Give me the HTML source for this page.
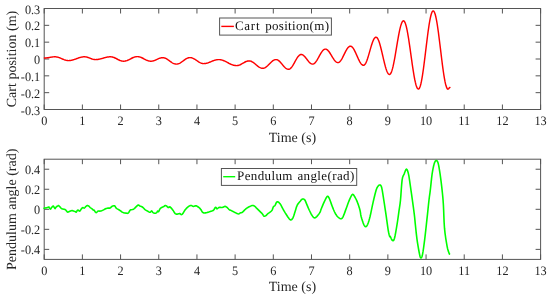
<!DOCTYPE html>
<html><head><meta charset="utf-8"><style>html,body{margin:0;padding:0;background:#fff;overflow:hidden}svg{display:block}</style></head><body>
<svg width="550" height="298" viewBox="0 0 550 298">
<rect width="550" height="298" fill="#fff"/>
<defs><filter id="bl" x="-5%" y="-5%" width="110%" height="110%" color-interpolation-filters="sRGB"><feGaussianBlur stdDeviation="0.35"/></filter></defs>
<g font-family="Liberation Serif, Times New Roman, serif" font-size="14" fill="#262626" style="text-rendering:geometricPrecision" filter="url(#bl)">
<rect x="44.2" y="8.5" width="496.40000000000003" height="101.0" fill="#fff" stroke="#555555" stroke-width="1"/>
<path d="M44.20,109.5v-5M44.20,8.5v5M82.38,109.5v-5M82.38,8.5v5M120.57,109.5v-5M120.57,8.5v5M158.75,109.5v-5M158.75,8.5v5M196.94,109.5v-5M196.94,8.5v5M235.12,109.5v-5M235.12,8.5v5M273.31,109.5v-5M273.31,8.5v5M311.49,109.5v-5M311.49,8.5v5M349.68,109.5v-5M349.68,8.5v5M387.86,109.5v-5M387.86,8.5v5M426.05,109.5v-5M426.05,8.5v5M464.23,109.5v-5M464.23,8.5v5M502.42,109.5v-5M502.42,8.5v5M540.60,109.5v-5M540.60,8.5v5M44.2,8.50h5M540.6,8.50h-5M44.2,25.33h5M540.6,25.33h-5M44.2,42.17h5M540.6,42.17h-5M44.2,59.00h5M540.6,59.00h-5M44.2,75.83h5M540.6,75.83h-5M44.2,92.67h5M540.6,92.67h-5M44.2,109.50h5M540.6,109.50h-5" stroke="#555555" stroke-width="1" fill="none"/>
<rect x="44.2" y="159.2" width="496.40000000000003" height="100.19999999999999" fill="#fff" stroke="#555555" stroke-width="1"/>
<path d="M44.20,259.4v-5M44.20,159.2v5M82.38,259.4v-5M82.38,159.2v5M120.57,259.4v-5M120.57,159.2v5M158.75,259.4v-5M158.75,159.2v5M196.94,259.4v-5M196.94,159.2v5M235.12,259.4v-5M235.12,159.2v5M273.31,259.4v-5M273.31,159.2v5M311.49,259.4v-5M311.49,159.2v5M349.68,259.4v-5M349.68,159.2v5M387.86,259.4v-5M387.86,159.2v5M426.05,259.4v-5M426.05,159.2v5M464.23,259.4v-5M464.23,159.2v5M502.42,259.4v-5M502.42,159.2v5M540.60,259.4v-5M540.60,159.2v5M44.2,169.22h5M540.6,169.22h-5M44.2,189.26h5M540.6,189.26h-5M44.2,209.30h5M540.6,209.30h-5M44.2,229.34h5M540.6,229.34h-5M44.2,249.38h5M540.6,249.38h-5" stroke="#555555" stroke-width="1" fill="none"/>
<text transform="translate(44.20,125.20) scale(0.95,1)" text-anchor="middle" font-size="12.9">0</text>
<text transform="translate(82.38,125.20) scale(0.95,1)" text-anchor="middle" font-size="12.9">1</text>
<text transform="translate(120.57,125.20) scale(0.95,1)" text-anchor="middle" font-size="12.9">2</text>
<text transform="translate(158.75,125.20) scale(0.95,1)" text-anchor="middle" font-size="12.9">3</text>
<text transform="translate(196.94,125.20) scale(0.95,1)" text-anchor="middle" font-size="12.9">4</text>
<text transform="translate(235.12,125.20) scale(0.95,1)" text-anchor="middle" font-size="12.9">5</text>
<text transform="translate(273.31,125.20) scale(0.95,1)" text-anchor="middle" font-size="12.9">6</text>
<text transform="translate(311.49,125.20) scale(0.95,1)" text-anchor="middle" font-size="12.9">7</text>
<text transform="translate(349.68,125.20) scale(0.95,1)" text-anchor="middle" font-size="12.9">8</text>
<text transform="translate(387.86,125.20) scale(0.95,1)" text-anchor="middle" font-size="12.9">9</text>
<text transform="translate(426.05,125.20) scale(0.95,1)" text-anchor="middle" font-size="12.9">10</text>
<text transform="translate(464.23,125.20) scale(0.95,1)" text-anchor="middle" font-size="12.9">11</text>
<text transform="translate(502.42,125.20) scale(0.95,1)" text-anchor="middle" font-size="12.9">12</text>
<text transform="translate(540.60,125.20) scale(0.95,1)" text-anchor="middle" font-size="12.9">13</text>
<text x="292.40" y="141.50" text-anchor="middle">Time (s)</text>
<text transform="translate(44.20,275.10) scale(0.95,1)" text-anchor="middle" font-size="12.9">0</text>
<text transform="translate(82.38,275.10) scale(0.95,1)" text-anchor="middle" font-size="12.9">1</text>
<text transform="translate(120.57,275.10) scale(0.95,1)" text-anchor="middle" font-size="12.9">2</text>
<text transform="translate(158.75,275.10) scale(0.95,1)" text-anchor="middle" font-size="12.9">3</text>
<text transform="translate(196.94,275.10) scale(0.95,1)" text-anchor="middle" font-size="12.9">4</text>
<text transform="translate(235.12,275.10) scale(0.95,1)" text-anchor="middle" font-size="12.9">5</text>
<text transform="translate(273.31,275.10) scale(0.95,1)" text-anchor="middle" font-size="12.9">6</text>
<text transform="translate(311.49,275.10) scale(0.95,1)" text-anchor="middle" font-size="12.9">7</text>
<text transform="translate(349.68,275.10) scale(0.95,1)" text-anchor="middle" font-size="12.9">8</text>
<text transform="translate(387.86,275.10) scale(0.95,1)" text-anchor="middle" font-size="12.9">9</text>
<text transform="translate(426.05,275.10) scale(0.95,1)" text-anchor="middle" font-size="12.9">10</text>
<text transform="translate(464.23,275.10) scale(0.95,1)" text-anchor="middle" font-size="12.9">11</text>
<text transform="translate(502.42,275.10) scale(0.95,1)" text-anchor="middle" font-size="12.9">12</text>
<text transform="translate(540.60,275.10) scale(0.95,1)" text-anchor="middle" font-size="12.9">13</text>
<text x="292.40" y="291.40" text-anchor="middle">Time (s)</text>
<text transform="translate(40.20,13.50) scale(0.95,1)" text-anchor="end" font-size="12.9">0.3</text>
<text transform="translate(40.20,30.33) scale(0.95,1)" text-anchor="end" font-size="12.9">0.2</text>
<text transform="translate(40.20,47.17) scale(0.95,1)" text-anchor="end" font-size="12.9">0.1</text>
<text transform="translate(40.20,64.00) scale(0.95,1)" text-anchor="end" font-size="12.9">0</text>
<text transform="translate(40.20,80.83) scale(0.95,1)" text-anchor="end" font-size="12.9">-0.1</text>
<text transform="translate(40.20,97.67) scale(0.95,1)" text-anchor="end" font-size="12.9">-0.2</text>
<text transform="translate(40.20,114.50) scale(0.95,1)" text-anchor="end" font-size="12.9">-0.3</text>
<text transform="translate(40.20,174.22) scale(0.95,1)" text-anchor="end" font-size="12.9">0.4</text>
<text transform="translate(40.20,194.26) scale(0.95,1)" text-anchor="end" font-size="12.9">0.2</text>
<text transform="translate(40.20,214.30) scale(0.95,1)" text-anchor="end" font-size="12.9">0</text>
<text transform="translate(40.20,234.34) scale(0.95,1)" text-anchor="end" font-size="12.9">-0.2</text>
<text transform="translate(40.20,254.38) scale(0.95,1)" text-anchor="end" font-size="12.9">-0.4</text>
<text transform="translate(15.6,59.00) rotate(-90)" text-anchor="middle">Cart position (m)</text>
<text transform="translate(15.6,209.30) rotate(-90)" text-anchor="middle">Pendulum angle (rad)</text>
<path d="M44.40,58.00 L44.90,57.99 L45.41,57.97 L45.91,57.94 L46.42,57.90 L46.92,57.84 L47.43,57.77 L47.93,57.70 L48.44,57.62 L48.94,57.53 L49.45,57.44 L49.95,57.36 L50.46,57.27 L50.96,57.18 L51.47,57.10 L51.97,57.03 L52.48,56.96 L52.98,56.90 L53.49,56.86 L53.99,56.83 L54.50,56.81 L55.00,56.80 L55.50,56.81 L56.00,56.85 L56.50,56.91 L57.00,57.00 L57.50,57.11 L58.00,57.24 L58.50,57.40 L59.00,57.57 L59.50,57.75 L60.00,57.95 L60.50,58.16 L61.00,58.37 L61.50,58.59 L62.00,58.81 L62.50,59.03 L63.00,59.24 L63.50,59.45 L64.00,59.65 L64.50,59.83 L65.00,60.00 L65.50,60.16 L66.00,60.29 L66.50,60.40 L67.00,60.49 L67.50,60.55 L68.00,60.59 L68.50,60.60 L69.00,60.59 L69.50,60.56 L70.00,60.52 L70.50,60.46 L71.00,60.38 L71.50,60.28 L72.00,60.17 L72.50,60.04 L73.00,59.91 L73.50,59.76 L74.00,59.60 L74.50,59.43 L75.00,59.25 L75.50,59.07 L76.00,58.89 L76.50,58.70 L77.00,58.51 L77.50,58.33 L78.00,58.15 L78.50,57.97 L79.00,57.80 L79.50,57.64 L80.00,57.49 L80.50,57.36 L81.00,57.23 L81.50,57.12 L82.00,57.02 L82.50,56.94 L83.00,56.88 L83.50,56.84 L84.00,56.81 L84.50,56.80 L85.00,56.81 L85.50,56.86 L86.00,56.93 L86.50,57.02 L87.00,57.14 L87.50,57.28 L88.00,57.44 L88.50,57.62 L89.00,57.81 L89.50,58.00 L90.00,58.20 L90.50,58.40 L91.00,58.59 L91.50,58.78 L92.00,58.96 L92.50,59.12 L93.00,59.26 L93.50,59.38 L94.00,59.47 L94.50,59.54 L95.00,59.59 L95.50,59.60 L96.00,59.59 L96.50,59.57 L97.00,59.53 L97.50,59.48 L98.00,59.41 L98.50,59.33 L99.00,59.24 L99.50,59.14 L100.00,59.02 L100.50,58.90 L101.00,58.77 L101.50,58.63 L102.00,58.49 L102.50,58.35 L103.00,58.20 L103.50,58.05 L104.00,57.91 L104.50,57.77 L105.00,57.63 L105.50,57.50 L106.00,57.38 L106.50,57.26 L107.00,57.16 L107.50,57.07 L108.00,56.99 L108.50,56.92 L109.00,56.87 L109.50,56.83 L110.00,56.81 L110.50,56.80 L111.00,56.82 L111.51,56.86 L112.01,56.94 L112.52,57.05 L113.02,57.19 L113.52,57.35 L114.03,57.54 L114.53,57.75 L115.03,57.98 L115.54,58.22 L116.04,58.47 L116.55,58.73 L117.05,59.00 L117.55,59.27 L118.06,59.53 L118.56,59.78 L119.07,60.02 L119.57,60.25 L120.07,60.46 L120.58,60.65 L121.08,60.81 L121.58,60.95 L122.09,61.06 L122.59,61.14 L123.10,61.18 L123.60,61.20 L124.11,61.18 L124.61,61.14 L125.12,61.06 L125.63,60.96 L126.14,60.82 L126.64,60.66 L127.15,60.48 L127.66,60.27 L128.17,60.05 L128.67,59.81 L129.18,59.56 L129.69,59.30 L130.20,59.03 L130.70,58.77 L131.21,58.50 L131.72,58.24 L132.23,57.99 L132.73,57.75 L133.24,57.53 L133.75,57.32 L134.26,57.14 L134.76,56.98 L135.27,56.84 L135.78,56.74 L136.29,56.66 L136.79,56.62 L137.30,56.60 L137.80,56.62 L138.31,56.66 L138.81,56.74 L139.31,56.84 L139.82,56.98 L140.32,57.14 L140.83,57.32 L141.33,57.53 L141.83,57.75 L142.34,57.99 L142.84,58.24 L143.34,58.50 L143.85,58.77 L144.35,59.03 L144.86,59.30 L145.36,59.56 L145.86,59.81 L146.37,60.05 L146.87,60.27 L147.37,60.48 L147.88,60.66 L148.38,60.82 L148.89,60.96 L149.39,61.06 L149.89,61.14 L150.40,61.18 L150.90,61.20 L151.41,61.18 L151.93,61.14 L152.44,61.06 L152.95,60.95 L153.47,60.81 L153.98,60.64 L154.49,60.46 L155.00,60.26 L155.52,60.04 L156.03,59.81 L156.54,59.57 L157.06,59.33 L157.57,59.09 L158.08,58.86 L158.60,58.64 L159.11,58.44 L159.62,58.26 L160.13,58.09 L160.65,57.95 L161.16,57.84 L161.67,57.76 L162.19,57.72 L162.70,57.70 L163.21,57.72 L163.71,57.79 L164.22,57.89 L164.73,58.04 L165.24,58.23 L165.74,58.45 L166.25,58.70 L166.76,58.99 L167.27,59.30 L167.77,59.63 L168.28,59.98 L168.79,60.34 L169.30,60.71 L169.80,61.09 L170.31,61.46 L170.82,61.82 L171.33,62.17 L171.83,62.50 L172.34,62.81 L172.85,63.10 L173.36,63.35 L173.86,63.57 L174.37,63.76 L174.88,63.91 L175.39,64.01 L175.89,64.08 L176.40,64.10 L176.90,64.08 L177.41,64.01 L177.91,63.90 L178.41,63.75 L178.92,63.57 L179.42,63.34 L179.93,63.08 L180.43,62.79 L180.93,62.47 L181.44,62.14 L181.94,61.78 L182.44,61.41 L182.95,61.04 L183.45,60.66 L183.96,60.29 L184.46,59.92 L184.96,59.56 L185.47,59.23 L185.97,58.91 L186.47,58.62 L186.98,58.36 L187.48,58.13 L187.99,57.95 L188.49,57.80 L188.99,57.69 L189.50,57.62 L190.00,57.60 L190.50,57.62 L191.01,57.68 L191.51,57.78 L192.01,57.92 L192.52,58.09 L193.02,58.30 L193.53,58.54 L194.03,58.81 L194.53,59.10 L195.04,59.41 L195.54,59.74 L196.04,60.08 L196.55,60.43 L197.05,60.77 L197.56,61.12 L198.06,61.46 L198.56,61.79 L199.07,62.10 L199.57,62.39 L200.07,62.66 L200.58,62.90 L201.08,63.11 L201.59,63.28 L202.09,63.42 L202.59,63.52 L203.10,63.58 L203.60,63.60 L204.10,63.59 L204.61,63.56 L205.11,63.50 L205.61,63.43 L206.12,63.33 L206.62,63.22 L207.12,63.09 L207.63,62.94 L208.13,62.78 L208.63,62.60 L209.14,62.41 L209.64,62.22 L210.14,62.02 L210.65,61.81 L211.15,61.60 L211.65,61.39 L212.16,61.18 L212.66,60.98 L213.16,60.79 L213.67,60.60 L214.17,60.42 L214.67,60.26 L215.18,60.11 L215.68,59.98 L216.18,59.87 L216.69,59.77 L217.19,59.70 L217.69,59.64 L218.20,59.61 L218.70,59.60 L219.21,59.61 L219.72,59.65 L220.23,59.71 L220.75,59.79 L221.26,59.90 L221.77,60.02 L222.28,60.17 L222.79,60.34 L223.30,60.53 L223.81,60.73 L224.33,60.95 L224.84,61.18 L225.35,61.42 L225.86,61.67 L226.37,61.93 L226.88,62.20 L227.39,62.47 L227.91,62.73 L228.42,63.00 L228.93,63.27 L229.44,63.53 L229.95,63.78 L230.46,64.02 L230.97,64.25 L231.49,64.47 L232.00,64.67 L232.51,64.86 L233.02,65.03 L233.53,65.18 L234.04,65.30 L234.55,65.41 L235.07,65.49 L235.58,65.55 L236.09,65.59 L236.60,65.60 L237.10,65.58 L237.60,65.53 L238.10,65.43 L238.60,65.31 L239.10,65.15 L239.60,64.96 L240.10,64.75 L240.60,64.51 L241.10,64.25 L241.60,63.98 L242.10,63.69 L242.60,63.40 L243.10,63.10 L243.60,62.81 L244.10,62.52 L244.60,62.25 L245.10,61.99 L245.60,61.75 L246.10,61.54 L246.60,61.35 L247.10,61.19 L247.60,61.07 L248.10,60.97 L248.60,60.92 L249.10,60.90 L249.60,60.93 L250.11,61.00 L250.61,61.12 L251.11,61.29 L251.62,61.51 L252.12,61.77 L252.63,62.06 L253.13,62.39 L253.63,62.75 L254.14,63.13 L254.64,63.54 L255.14,63.96 L255.65,64.38 L256.15,64.82 L256.66,65.24 L257.16,65.66 L257.66,66.07 L258.17,66.45 L258.67,66.81 L259.17,67.14 L259.68,67.43 L260.18,67.69 L260.69,67.91 L261.19,68.08 L261.69,68.20 L262.20,68.27 L262.70,68.30 L263.21,68.27 L263.72,68.17 L264.23,68.02 L264.75,67.80 L265.26,67.53 L265.77,67.21 L266.28,66.83 L266.79,66.42 L267.30,65.97 L267.82,65.49 L268.33,64.99 L268.84,64.47 L269.35,63.95 L269.86,63.43 L270.37,62.91 L270.88,62.41 L271.40,61.93 L271.91,61.48 L272.42,61.07 L272.93,60.69 L273.44,60.37 L273.95,60.10 L274.47,59.88 L274.98,59.73 L275.49,59.63 L276.00,59.60 L276.50,59.64 L277.00,59.75 L277.50,59.94 L278.00,60.20 L278.50,60.53 L279.00,60.91 L279.50,61.36 L280.00,61.85 L280.50,62.38 L281.00,62.95 L281.50,63.54 L282.00,64.15 L282.50,64.75 L283.00,65.36 L283.50,65.95 L284.00,66.52 L284.50,67.05 L285.00,67.54 L285.50,67.99 L286.00,68.37 L286.50,68.70 L287.00,68.96 L287.50,69.15 L288.00,69.26 L288.50,69.30 L289.01,69.24 L289.52,69.07 L290.02,68.78 L290.53,68.38 L291.04,67.89 L291.55,67.29 L292.06,66.62 L292.56,65.87 L293.07,65.05 L293.58,64.19 L294.09,63.29 L294.60,62.36 L295.10,61.44 L295.61,60.51 L296.12,59.61 L296.63,58.75 L297.14,57.93 L297.64,57.18 L298.15,56.51 L298.66,55.91 L299.17,55.42 L299.68,55.02 L300.18,54.73 L300.69,54.56 L301.20,54.50 L301.72,54.55 L302.24,54.69 L302.75,54.93 L303.27,55.26 L303.79,55.67 L304.31,56.16 L304.83,56.70 L305.35,57.31 L305.86,57.95 L306.38,58.62 L306.90,59.30 L307.42,59.98 L307.94,60.65 L308.45,61.29 L308.97,61.90 L309.49,62.44 L310.01,62.93 L310.53,63.34 L311.05,63.67 L311.56,63.91 L312.08,64.05 L312.60,64.10 L313.11,64.04 L313.62,63.86 L314.14,63.57 L314.65,63.17 L315.16,62.67 L315.67,62.07 L316.18,61.38 L316.70,60.62 L317.21,59.79 L317.72,58.92 L318.23,58.01 L318.74,57.07 L319.26,56.13 L319.77,55.19 L320.28,54.28 L320.79,53.41 L321.30,52.58 L321.82,51.82 L322.33,51.13 L322.84,50.53 L323.35,50.03 L323.86,49.63 L324.38,49.34 L324.89,49.16 L325.40,49.10 L325.90,49.15 L326.40,49.31 L326.90,49.57 L327.40,49.93 L327.90,50.39 L328.40,50.93 L328.90,51.55 L329.40,52.23 L329.90,52.98 L330.40,53.76 L330.90,54.59 L331.40,55.43 L331.90,56.27 L332.40,57.11 L332.90,57.94 L333.40,58.72 L333.90,59.47 L334.40,60.15 L334.90,60.77 L335.40,61.31 L335.90,61.77 L336.40,62.13 L336.90,62.39 L337.40,62.55 L337.90,62.60 L338.40,62.54 L338.90,62.34 L339.40,62.02 L339.90,61.59 L340.40,61.03 L340.90,60.38 L341.40,59.63 L341.90,58.79 L342.40,57.89 L342.90,56.93 L343.40,55.94 L343.90,54.91 L344.40,53.89 L344.90,52.86 L345.40,51.87 L345.90,50.91 L346.40,50.01 L346.90,49.17 L347.40,48.42 L347.90,47.77 L348.40,47.21 L348.90,46.78 L349.40,46.46 L349.90,46.26 L350.40,46.20 L350.90,46.27 L351.41,46.48 L351.91,46.82 L352.42,47.29 L352.92,47.89 L353.42,48.60 L353.93,49.42 L354.43,50.32 L354.93,51.31 L355.44,52.36 L355.94,53.46 L356.45,54.60 L356.95,55.75 L357.45,56.90 L357.96,58.04 L358.46,59.14 L358.97,60.19 L359.47,61.18 L359.97,62.08 L360.48,62.90 L360.98,63.61 L361.48,64.21 L361.99,64.68 L362.49,65.02 L363.00,65.23 L363.50,65.30 L364.00,65.19 L364.50,64.86 L365.00,64.31 L365.50,63.56 L366.00,62.62 L366.50,61.49 L367.00,60.21 L367.50,58.78 L368.00,57.23 L368.50,55.59 L369.00,53.88 L369.50,52.13 L370.00,50.37 L370.50,48.62 L371.00,46.91 L371.50,45.27 L372.00,43.72 L372.50,42.29 L373.00,41.01 L373.50,39.88 L374.00,38.94 L374.50,38.19 L375.00,37.64 L375.50,37.31 L376.00,37.20 L376.50,37.33 L377.00,37.70 L377.50,38.32 L378.00,39.18 L378.50,40.27 L379.00,41.56 L379.50,43.05 L380.00,44.71 L380.50,46.52 L381.00,48.46 L381.50,50.50 L382.00,52.61 L382.50,54.77 L383.00,56.93 L383.50,59.09 L384.00,61.20 L384.50,63.24 L385.00,65.17 L385.50,66.99 L386.00,68.65 L386.50,70.14 L387.00,71.43 L387.50,72.52 L388.00,73.38 L388.50,74.00 L389.00,74.37 L389.50,74.50 L390.00,74.33 L390.50,73.83 L391.00,72.99 L391.50,71.84 L392.00,70.38 L392.50,68.64 L393.00,66.64 L393.50,64.39 L394.00,61.94 L394.50,59.30 L395.00,56.52 L395.50,53.62 L396.00,50.66 L396.50,47.65 L397.00,44.64 L397.50,41.68 L398.00,38.78 L398.50,36.00 L399.00,33.36 L399.50,30.91 L400.00,28.66 L400.50,26.66 L401.00,24.92 L401.50,23.46 L402.00,22.31 L402.50,21.47 L403.00,20.97 L403.50,20.80 L404.01,21.00 L404.53,21.60 L405.04,22.59 L405.56,23.96 L406.07,25.69 L406.58,27.76 L407.10,30.16 L407.61,32.84 L408.12,35.79 L408.64,38.95 L409.15,42.31 L409.67,45.81 L410.18,49.43 L410.69,53.10 L411.21,56.80 L411.72,60.47 L412.23,64.09 L412.75,67.59 L413.26,70.95 L413.78,74.11 L414.29,77.06 L414.80,79.74 L415.32,82.14 L415.83,84.21 L416.34,85.94 L416.86,87.31 L417.37,88.30 L417.89,88.90 L418.40,89.10 L418.91,88.87 L419.42,88.19 L419.93,87.05 L420.44,85.49 L420.95,83.50 L421.46,81.13 L421.97,78.39 L422.48,75.31 L422.99,71.94 L423.50,68.31 L424.01,64.47 L424.52,60.46 L425.03,56.33 L425.54,52.12 L426.06,47.88 L426.57,43.67 L427.08,39.54 L427.59,35.53 L428.10,31.69 L428.61,28.06 L429.12,24.69 L429.63,21.61 L430.14,18.87 L430.65,16.50 L431.16,14.51 L431.67,12.95 L432.18,11.81 L432.69,11.13 L433.20,10.90 L433.71,11.13 L434.22,11.82 L434.73,12.95 L435.24,14.52 L435.75,16.50 L436.26,18.88 L436.77,21.63 L437.28,24.70 L437.79,28.08 L438.30,31.71 L438.81,35.56 L439.32,39.58 L439.83,43.72 L440.34,47.93 L440.86,52.17 L441.37,56.38 L441.88,60.52 L442.39,64.54 L442.90,68.39 L443.41,72.02 L443.92,75.40 L444.43,78.47 L444.94,81.22 L445.45,83.60 L445.96,85.58 L446.47,87.15 L446.98,88.28 L447.49,88.97 L448.00,89.20 L448.63,88.75 L449.27,87.85 L449.90,87.40" stroke="#ff0000" stroke-width="1.45" fill="none" stroke-linejoin="round" stroke-linecap="round"/>
<path d="M44.00,208.18 L44.16,208.17 L44.38,208.16 L44.66,208.13 L45.01,208.08 L45.44,207.98 L45.95,207.85 L46.49,207.71 L47.02,207.58 L47.56,207.41 L48.12,207.23 L48.63,207.09 L49.03,207.07 L49.25,207.22 L49.34,207.48 L49.41,207.79 L49.53,208.08 L49.75,208.39 L50.00,208.74 L50.28,209.01 L50.54,209.08 L50.78,208.88 L51.01,208.49 L51.26,208.01 L51.55,207.58 L51.90,207.14 L52.30,206.66 L52.70,206.27 L53.05,206.07 L53.34,206.13 L53.59,206.38 L53.82,206.73 L54.06,207.07 L54.31,207.49 L54.56,207.98 L54.81,208.40 L55.07,208.58 L55.31,208.40 L55.54,207.98 L55.79,207.49 L56.07,207.07 L56.43,206.77 L56.83,206.51 L57.23,206.27 L57.58,206.07 L57.86,205.86 L58.08,205.66 L58.31,205.54 L58.59,205.56 L58.93,205.80 L59.31,206.19 L59.71,206.65 L60.10,207.07 L60.47,207.47 L60.85,207.89 L61.23,208.27 L61.61,208.58 L61.97,208.78 L62.33,208.90 L62.70,208.98 L63.11,209.08 L63.59,209.19 L64.12,209.27 L64.65,209.39 L65.13,209.59 L65.55,209.91 L65.94,210.31 L66.31,210.73 L66.64,211.10 L66.91,211.42 L67.14,211.73 L67.37,211.97 L67.64,212.10 L67.98,212.09 L68.36,211.96 L68.76,211.77 L69.15,211.60 L69.53,211.43 L69.91,211.23 L70.28,211.05 L70.66,210.90 L71.04,210.77 L71.41,210.67 L71.79,210.60 L72.17,210.59 L72.55,210.66 L72.92,210.79 L73.30,210.95 L73.68,211.10 L74.07,211.22 L74.46,211.35 L74.85,211.47 L75.19,211.60 L75.47,211.77 L75.72,211.98 L75.95,212.12 L76.19,212.10 L76.44,211.84 L76.70,211.41 L76.95,210.95 L77.20,210.59 L77.44,210.36 L77.67,210.18 L77.92,210.09 L78.21,210.09 L78.55,210.31 L78.93,210.69 L79.33,211.02 L79.71,211.10 L80.09,210.79 L80.47,210.25 L80.85,209.62 L81.22,209.08 L81.60,208.62 L81.98,208.17 L82.36,207.80 L82.73,207.58 L83.11,207.61 L83.49,207.83 L83.86,208.05 L84.24,208.08 L84.62,207.83 L85.00,207.42 L85.37,206.96 L85.75,206.57 L86.13,206.25 L86.51,205.94 L86.88,205.70 L87.26,205.56 L87.64,205.56 L88.01,205.66 L88.39,205.83 L88.77,206.07 L89.15,206.38 L89.52,206.79 L89.90,207.21 L90.28,207.58 L90.65,207.85 L91.03,208.08 L91.41,208.31 L91.79,208.58 L92.18,208.96 L92.59,209.40 L92.97,209.81 L93.30,210.09 L93.50,210.14 L93.63,210.03 L93.77,209.95 L94.02,210.09 L94.44,210.64 L94.95,211.44 L95.50,212.20 L96.04,212.61 L96.54,212.48 L97.04,212.01 L97.55,211.46 L98.05,211.10 L98.55,211.00 L99.05,211.03 L99.56,211.10 L100.06,211.10 L100.56,211.02 L101.07,210.91 L101.57,210.77 L102.07,210.59 L102.58,210.38 L103.08,210.12 L103.58,209.85 L104.08,209.59 L104.59,209.32 L105.09,209.05 L105.59,208.80 L106.10,208.58 L106.60,208.41 L107.10,208.27 L107.61,208.16 L108.11,208.08 L108.64,208.07 L109.18,208.11 L109.69,208.14 L110.12,208.08 L110.43,207.90 L110.66,207.64 L110.86,207.35 L111.13,207.07 L111.46,206.80 L111.82,206.52 L112.21,206.26 L112.64,206.07 L113.12,205.90 L113.64,205.76 L114.17,205.73 L114.65,205.87 L115.06,206.28 L115.43,206.90 L115.79,207.55 L116.16,208.08 L116.51,208.40 L116.85,208.63 L117.22,208.83 L117.67,209.08 L118.24,209.43 L118.89,209.81 L119.56,210.20 L120.18,210.59 L120.72,210.99 L121.22,211.39 L121.70,211.77 L122.19,212.10 L122.70,212.37 L123.20,212.59 L123.70,212.77 L124.21,212.91 L124.71,213.00 L125.21,213.06 L125.71,213.09 L126.22,213.11 L126.72,213.19 L127.22,213.31 L127.73,213.33 L128.23,213.11 L128.73,212.51 L129.24,211.63 L129.74,210.74 L130.24,210.09 L130.74,209.80 L131.25,209.71 L131.75,209.69 L132.25,209.59 L132.76,209.39 L133.26,209.18 L133.76,208.92 L134.27,208.58 L134.77,208.14 L135.27,207.61 L135.77,207.06 L136.28,206.57 L136.79,206.10 L137.30,205.63 L137.81,205.25 L138.29,205.06 L138.74,205.15 L139.17,205.44 L139.59,205.79 L140.00,206.07 L140.40,206.22 L140.78,206.32 L141.16,206.42 L141.54,206.57 L141.91,206.76 L142.26,206.98 L142.64,207.24 L143.05,207.58 L143.50,208.02 L143.99,208.55 L144.51,209.10 L145.06,209.59 L145.65,210.01 L146.29,210.39 L146.93,210.75 L147.58,211.10 L148.23,211.48 L148.90,211.88 L149.53,212.19 L150.09,212.30 L150.54,212.06 L150.91,211.57 L151.25,211.09 L151.60,210.90 L151.97,211.13 L152.32,211.62 L152.70,212.18 L153.11,212.61 L153.59,212.89 L154.11,213.11 L154.64,213.26 L155.12,213.31 L155.55,213.25 L155.94,213.10 L156.30,212.87 L156.63,212.61 L156.92,212.24 L157.16,211.78 L157.40,211.35 L157.64,211.10 L157.88,211.16 L158.11,211.44 L158.35,211.67 L158.64,211.60 L158.98,211.05 L159.36,210.18 L159.76,209.28 L160.15,208.58 L160.52,208.19 L160.87,207.95 L161.25,207.78 L161.66,207.58 L162.14,207.32 L162.67,207.07 L163.19,206.82 L163.67,206.57 L164.08,206.28 L164.46,205.97 L164.82,205.71 L165.18,205.56 L165.56,205.56 L165.94,205.66 L166.31,205.83 L166.69,206.07 L167.07,206.42 L167.44,206.90 L167.82,207.33 L168.20,207.58 L168.58,207.51 L168.95,207.24 L169.33,206.96 L169.71,206.87 L170.07,207.01 L170.43,207.27 L170.80,207.64 L171.22,208.08 L171.68,208.60 L172.19,209.22 L172.71,209.90 L173.23,210.59 L173.73,211.37 L174.24,212.23 L174.74,213.02 L175.24,213.61 L175.73,213.94 L176.22,214.08 L176.72,214.12 L177.25,214.11 L177.87,214.02 L178.54,213.83 L179.20,213.65 L179.77,213.61 L180.22,213.80 L180.59,214.15 L180.92,214.47 L181.28,214.62 L181.65,214.54 L182.03,214.33 L182.41,214.02 L182.79,213.61 L183.18,213.05 L183.59,212.35 L183.98,211.65 L184.30,211.10 L184.52,210.75 L184.68,210.52 L184.82,210.33 L185.00,210.09 L185.22,209.81 L185.44,209.52 L185.71,209.19 L186.05,208.82 L186.47,208.35 L186.95,207.81 L187.49,207.28 L188.06,206.80 L188.69,206.36 L189.37,205.94 L190.06,205.62 L190.75,205.46 L191.42,205.57 L192.10,205.88 L192.77,206.21 L193.44,206.40 L194.11,206.32 L194.78,206.09 L195.46,205.88 L196.13,205.86 L196.82,206.10 L197.52,206.51 L198.19,206.99 L198.82,207.47 L199.37,207.92 L199.87,208.39 L200.35,208.90 L200.83,209.49 L201.32,210.25 L201.80,211.14 L202.30,211.98 L202.85,212.58 L203.47,212.87 L204.15,212.95 L204.85,212.91 L205.54,212.85 L206.23,212.75 L206.92,212.57 L207.60,212.37 L208.23,212.18 L208.78,212.01 L209.28,211.84 L209.75,211.67 L210.24,211.51 L210.76,211.34 L211.29,211.17 L211.80,211.00 L212.26,210.83 L212.63,210.72 L212.93,210.64 L213.23,210.49 L213.60,210.16 L214.07,209.48 L214.61,208.54 L215.15,207.68 L215.62,207.20 L215.99,207.36 L216.29,207.91 L216.59,208.51 L216.96,208.82 L217.40,208.66 L217.89,208.25 L218.41,207.78 L218.98,207.47 L219.63,207.38 L220.36,207.41 L221.07,207.46 L221.67,207.47 L222.08,207.44 L222.38,207.39 L222.66,207.32 L223.01,207.20 L223.47,207.00 L223.98,206.72 L224.51,206.48 L225.03,206.40 L225.53,206.51 L226.03,206.76 L226.54,207.09 L227.04,207.47 L227.57,207.94 L228.12,208.51 L228.63,209.06 L229.06,209.49 L229.38,209.77 L229.63,209.95 L229.83,210.07 L230.00,210.16 L230.08,210.18 L230.08,210.12 L230.13,210.08 L230.38,210.16 L230.89,210.40 L231.58,210.75 L232.34,211.14 L233.06,211.51 L233.74,211.85 L234.41,212.19 L235.08,212.53 L235.75,212.85 L236.44,213.19 L237.14,213.54 L237.82,213.81 L238.44,213.92 L238.99,213.80 L239.49,213.50 L239.97,213.14 L240.46,212.85 L240.95,212.70 L241.42,212.61 L241.92,212.48 L242.47,212.18 L243.10,211.63 L243.78,210.92 L244.47,210.16 L245.16,209.49 L245.83,208.92 L246.51,208.40 L247.18,207.91 L247.85,207.47 L248.54,207.07 L249.24,206.72 L249.91,206.40 L250.54,206.13 L251.09,205.88 L251.59,205.67 L252.07,205.51 L252.55,205.46 L253.06,205.50 L253.56,205.62 L254.07,205.84 L254.57,206.13 L255.07,206.54 L255.58,207.05 L256.08,207.61 L256.59,208.15 L257.09,208.65 L257.59,209.15 L258.10,209.66 L258.60,210.16 L259.11,210.67 L259.61,211.17 L260.11,211.67 L260.62,212.18 L261.14,212.68 L261.67,213.19 L262.18,213.69 L262.63,214.19 L263.00,214.76 L263.31,215.37 L263.61,215.89 L263.98,216.21 L264.44,216.26 L264.94,216.13 L265.47,215.86 L265.99,215.54 L266.50,215.11 L267.00,214.57 L267.51,214.01 L268.01,213.52 L268.51,213.15 L269.02,212.85 L269.52,212.54 L270.03,212.18 L270.55,211.75 L271.08,211.30 L271.59,210.78 L272.04,210.16 L272.42,209.37 L272.74,208.44 L273.05,207.53 L273.39,206.80 L273.76,206.38 L274.15,206.15 L274.56,205.91 L275.00,205.46 L275.46,204.57 L275.94,203.41 L276.46,202.35 L277.06,201.77 L277.74,201.80 L278.51,202.21 L279.30,202.91 L280.08,203.79 L280.84,204.92 L281.59,206.32 L282.35,207.82 L283.10,209.23 L283.86,210.54 L284.62,211.82 L285.37,213.07 L286.13,214.27 L286.91,215.50 L287.70,216.73 L288.47,217.84 L289.15,218.71 L289.73,219.33 L290.22,219.76 L290.69,219.96 L291.17,219.92 L291.67,219.61 L292.18,219.06 L292.68,218.28 L293.19,217.30 L293.69,216.03 L294.19,214.49 L294.70,212.84 L295.20,211.25 L295.68,209.69 L296.15,208.10 L296.64,206.57 L297.22,205.20 L297.93,204.00 L298.73,202.93 L299.53,201.99 L300.24,201.17 L300.81,200.46 L301.29,199.87 L301.75,199.43 L302.26,199.15 L302.84,199.03 L303.47,199.05 L304.09,199.28 L304.68,199.76 L305.20,200.56 L305.67,201.64 L306.16,202.88 L306.69,204.19 L307.30,205.60 L307.94,207.14 L308.62,208.72 L309.31,210.24 L310.06,211.77 L310.84,213.32 L311.62,214.74 L312.34,215.89 L312.98,216.74 L313.57,217.37 L314.15,217.77 L314.76,217.90 L315.40,217.72 L316.06,217.25 L316.72,216.60 L317.38,215.89 L318.07,215.08 L318.79,214.14 L319.45,213.16 L320.00,212.26 L320.33,211.55 L320.52,210.96 L320.72,210.26 L321.09,209.23 L321.71,207.72 L322.48,205.87 L323.31,203.94 L324.11,202.18 L324.89,200.50 L325.69,198.81 L326.45,197.40 L327.14,196.53 L327.69,196.27 L328.15,196.48 L328.60,197.12 L329.15,198.15 L329.84,199.73 L330.60,201.84 L331.40,204.11 L332.18,206.21 L332.93,208.12 L333.69,209.99 L334.45,211.74 L335.20,213.27 L335.96,214.55 L336.71,215.64 L337.47,216.55 L338.23,217.30 L339.01,217.93 L339.80,218.41 L340.56,218.69 L341.25,218.71 L341.80,218.51 L342.26,218.09 L342.71,217.38 L343.27,216.29 L343.95,214.67 L344.72,212.61 L345.51,210.37 L346.29,208.23 L347.05,206.15 L347.80,204.04 L348.56,202.01 L349.31,200.16 L350.09,198.41 L350.89,196.73 L351.65,195.36 L352.34,194.52 L352.89,194.31 L353.35,194.59 L353.80,195.24 L354.35,196.13 L355.05,197.28 L355.83,198.75 L356.63,200.42 L357.38,202.18 L358.10,204.10 L358.81,206.21 L359.46,208.33 L360.00,210.24 L360.34,211.83 L360.53,213.23 L360.73,214.63 L361.07,216.22 L361.63,218.22 L362.32,220.46 L363.03,222.60 L363.68,224.27 L364.23,225.38 L364.73,226.13 L365.21,226.55 L365.69,226.68 L366.19,226.55 L366.68,226.13 L367.17,225.38 L367.71,224.27 L368.27,222.79 L368.85,220.97 L369.47,218.79 L370.12,216.22 L370.83,213.07 L371.59,209.43 L372.37,205.65 L373.14,202.13 L373.92,198.78 L374.71,195.47 L375.47,192.47 L376.16,190.06 L376.73,188.42 L377.23,187.36 L377.69,186.64 L378.17,186.04 L378.68,185.48 L379.20,185.09 L379.71,184.93 L380.18,185.03 L380.60,185.29 L380.99,185.72 L381.37,186.56 L381.79,188.05 L382.26,190.34 L382.75,193.27 L383.26,196.61 L383.80,200.12 L384.39,203.91 L385.01,208.04 L385.63,212.24 L386.22,216.22 L386.76,220.07 L387.29,223.89 L387.78,227.39 L388.23,230.30 L388.65,232.52 L389.03,234.21 L389.37,235.45 L389.64,236.34 L389.77,236.63 L389.81,236.37 L389.87,236.06 L390.10,236.20 L390.57,237.14 L391.20,238.54 L391.88,239.87 L392.50,240.60 L393.01,240.75 L393.49,240.56 L393.97,239.78 L394.50,238.20 L395.12,235.50 L395.80,231.87 L396.48,227.89 L397.10,224.10 L397.66,220.50 L398.18,216.85 L398.66,213.32 L399.10,210.10 L399.49,207.53 L399.83,205.42 L400.15,203.12 L400.50,200.00 L400.88,195.39 L401.26,189.79 L401.67,184.33 L402.10,180.10 L402.56,177.60 L403.05,176.17 L403.56,175.20 L404.10,174.10 L404.68,172.55 L405.30,170.91 L405.92,169.62 L406.50,169.10 L407.04,169.53 L407.55,170.66 L408.04,172.26 L408.50,174.10 L408.92,176.15 L409.30,178.53 L409.68,181.19 L410.10,184.10 L410.57,187.29 L411.06,190.77 L411.58,194.44 L412.10,198.20 L412.66,202.19 L413.25,206.40 L413.82,210.54 L414.30,214.30 L414.66,217.50 L414.94,220.32 L415.20,223.07 L415.50,226.00 L415.84,229.21 L416.19,232.56 L416.57,235.94 L417.00,239.30 L417.52,242.79 L418.10,246.39 L418.68,249.75 L419.20,252.50 L419.62,254.60 L419.98,256.23 L420.32,257.34 L420.70,257.90 L421.12,257.97 L421.56,257.54 L422.01,256.47 L422.50,254.60 L423.02,251.72 L423.58,247.97 L424.14,243.71 L424.70,239.30 L425.25,234.70 L425.81,229.78 L426.36,224.71 L426.90,219.70 L427.45,214.55 L428.01,209.24 L428.53,204.23 L429.00,200.00 L429.37,197.00 L429.67,194.88 L429.96,192.86 L430.30,190.20 L430.71,186.47 L431.16,182.16 L431.62,177.84 L432.10,174.10 L432.59,171.02 L433.09,168.32 L433.60,166.01 L434.10,164.10 L434.60,162.60 L435.10,161.51 L435.60,160.81 L436.10,160.50 L436.60,160.52 L437.10,160.89 L437.60,161.71 L438.10,163.10 L438.60,165.14 L439.10,167.76 L439.60,170.79 L440.10,174.10 L440.62,177.80 L441.14,181.91 L441.65,186.15 L442.10,190.20 L442.48,193.79 L442.81,197.16 L443.11,200.74 L443.40,205.00 L443.65,210.33 L443.87,216.39 L444.12,222.56 L444.50,228.20 L445.06,233.34 L445.74,238.26 L446.46,242.67 L447.10,246.30 L447.68,248.98 L448.24,250.89 L448.73,252.26 L449.10,253.30 L449.32,253.91 L449.43,254.04 L449.47,253.94 L449.50,253.90" stroke="#00ff00" stroke-width="1.6" fill="none" stroke-linejoin="round" stroke-linecap="round"/>
<rect x="219.6" y="18.0" width="111.8" height="17.1" fill="#fff" stroke="#555555" stroke-width="1"/>
<path d="M221.3,26.4H233.9" stroke="#ff0000" stroke-width="1.4"/>
<text y="29.6" font-size="13" fill="#111" lengthAdjust="spacingAndGlyphs"><tspan x="235.0" textLength="24.5">Cart</tspan> <tspan x="265.2" textLength="63.8">position(m)</tspan></text>
<rect x="221.4" y="168.5" width="135.3" height="16.9" fill="#fff" stroke="#555555" stroke-width="1"/>
<path d="M223.2,176.7H235.2" stroke="#00ff00" stroke-width="1.4"/>
<text y="180.2" font-size="13" fill="#111" lengthAdjust="spacingAndGlyphs"><tspan x="237.1" textLength="55.3">Pendulum</tspan> <tspan x="297.4" textLength="56.9">angle(rad)</tspan></text>
</g></svg>
</body></html>
